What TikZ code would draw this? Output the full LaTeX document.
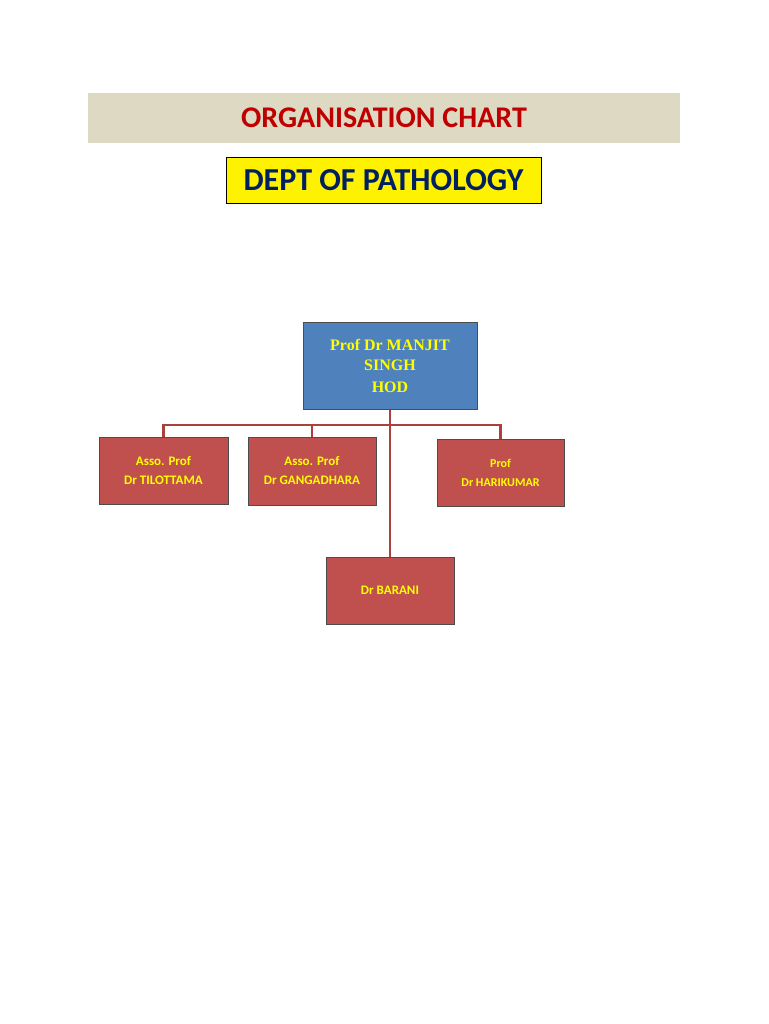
\documentclass[tikz,border=0pt]{standalone}
\usepackage{fontspec}
\setmainfont{Carlito}
\newfontfamily\serifb{Liberation Serif}
\definecolor{banner}{HTML}{DDD9C3}
\definecolor{titlered}{HTML}{C00000}
\definecolor{navy}{HTML}{002060}
\definecolor{hodblue}{HTML}{4F81BD}
\definecolor{boxred}{HTML}{C0504D}
\definecolor{linered}{HTML}{A9413F}
\definecolor{txtyel}{HTML}{FFFF00}
\begin{document}
\begin{tikzpicture}[x=1pt,y=-1pt,
  redbox/.style={draw=black!70,line width=1pt,fill=boxred,text=txtyel,font=\bfseries\fontsize{13}{19}\selectfont,align=center,inner sep=0pt},
  conn/.style={draw=linered,line width=2.5pt}]
\useasboundingbox (0,0) rectangle (768,1024);
\fill[white] (0,0) rectangle (768,1024);
\node[fill=banner,minimum width=592pt,minimum height=50pt,inner sep=0pt,text=titlered,font=\bfseries\fontsize{30}{32}\selectfont] (ban) at (384,118) {ORGANISATION CHART};
\node[fill=yellow,draw=black,line width=0.8pt,minimum width=315pt,minimum height=46pt,inner sep=0pt,text=navy,font=\bfseries\fontsize{32}{34}\selectfont] (dept) at (383.5,180) {DEPT OF PATHOLOGY};
\node[draw=black!70,line width=1pt,fill=hodblue,minimum width=174pt,minimum height=87pt,inner sep=0pt,text=txtyel,align=center,font=\serifb\bfseries\fontsize{16}{20}\selectfont] (hod) at (390,365.5) {Prof Dr MANJIT\\SINGH\\[2pt]HOD};
\node[redbox,minimum width=129pt,minimum height=67pt] (t) at (163.5,470.5) {Asso. Prof\\Dr TILOTTAMA};
\node[redbox,minimum width=128pt,minimum height=68pt] (g) at (312,471) {Asso. Prof\\Dr GANGADHARA};
\node[redbox,minimum width=127pt,minimum height=67pt,font=\bfseries\fontsize{12}{19}\selectfont] (h) at (500.5,472.5) {Prof\\Dr HARIKUMAR};
\node[redbox,minimum width=128pt,minimum height=67pt] (b) at (390,590.5) {Dr BARANI};
\coordinate (j) at (390,425);
\draw[conn] (hod.south) -- (b.north);
\draw[conn] (t.north) |- (j) -| (g.north);
\draw[conn] (j) -| (h.north);
\end{tikzpicture}
\end{document}
